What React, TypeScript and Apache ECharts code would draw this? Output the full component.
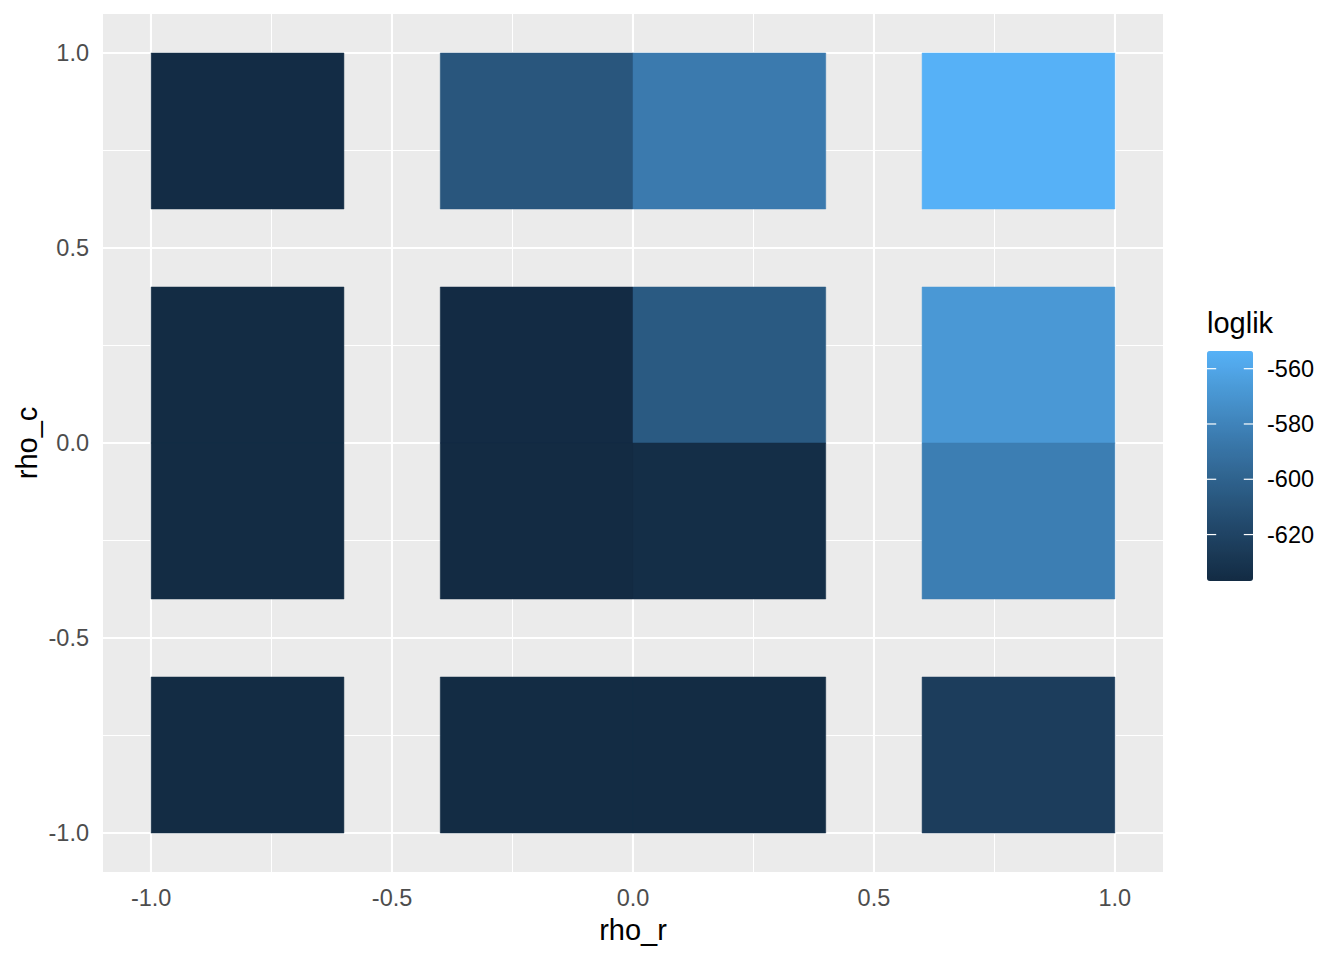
import React, { useEffect, useRef } from "react";
import * as echarts from "echarts";

// ---- data ----
const rhoR = [-0.8, -0.2, 0.2, 0.8];
const rhoC = [0.8, 0.2, -0.2, -0.8];
// loglik rows follow rhoC, columns follow rhoR
const loglikRow1 = [-636.0, -607.9, -585.3, -553.6];
const loglikRow2 = [-636.3, -636.5, -605.4, -567.8];
const loglikRow3 = [-636.3, -636.8, -634.6, -583.1];
const loglikRow4 = [-636.2, -636.4, -636.1, -624.0];
const loglikRows = [loglikRow1, loglikRow2, loglikRow3, loglikRow4];
const tileSize = 0.4;
const axisTicks = [-1, -0.5, 0, 0.5, 1];
const minorTicks = [-0.75, -0.25, 0.25, 0.75];
const legendTicks = [-560, -580, -600, -620];
const lowColor = "#132B43";
const highColor = "#56B1F7";

// ---- colour ramp in CIELAB (like ggplot2's seq gradient) ----
function hexToRgb(h: string) {
  const s = h.replace("#", "");
  return [0, 2, 4].map((i) => parseInt(s.slice(i, i + 2), 16));
}
const toLin = (c: number) => {
  c /= 255;
  return c <= 0.04045 ? c / 12.92 : Math.pow((c + 0.055) / 1.055, 2.4);
};
const fromLin = (c: number) => {
  const v = c <= 0.0031308 ? 12.92 * c : 1.055 * Math.pow(c, 1 / 2.4) - 0.055;
  return Math.max(0, Math.min(255, Math.round(v * 255)));
};
const WX = 0.95047, WY = 1.0, WZ = 1.08883;
function rgbToLab(rgb: number[]) {
  const [r, g, b] = rgb.map(toLin);
  const x = (0.4124 * r + 0.3576 * g + 0.1805 * b) / WX;
  const y = (0.2126 * r + 0.7152 * g + 0.0722 * b) / WY;
  const z = (0.0193 * r + 0.1192 * g + 0.9505 * b) / WZ;
  const f = (t: number) => (t > 0.008856 ? Math.cbrt(t) : 7.787 * t + 16 / 116);
  const fx = f(x), fy = f(y), fz = f(z);
  return [116 * fy - 16, 500 * (fx - fy), 200 * (fy - fz)];
}
function labToHex(lab: number[]) {
  const [L, A, B] = lab;
  const fy = (L + 16) / 116;
  const fx = fy + A / 500;
  const fz = fy - B / 200;
  const inv = (t: number) => (t * t * t > 0.008856 ? t * t * t : (t - 16 / 116) / 7.787);
  const x = inv(fx) * WX, y = inv(fy) * WY, z = inv(fz) * WZ;
  const r = 3.2406 * x - 1.5372 * y - 0.4986 * z;
  const g = -0.9689 * x + 1.8758 * y + 0.0415 * z;
  const b = 0.0557 * x - 0.204 * y + 1.057 * z;
  return "#" + [r, g, b].map((c) => fromLin(c).toString(16).padStart(2, "0")).join("");
}
function labRamp(a: string, b: string, n: number) {
  const la = rgbToLab(hexToRgb(a));
  const lb = rgbToLab(hexToRgb(b));
  const out: string[] = [];
  for (let i = 0; i < n; i++) {
    const t = i / (n - 1);
    out.push(labToHex([0, 1, 2].map((k) => la[k] + (lb[k] - la[k]) * t)));
  }
  return out;
}

const FONT = "'Liberation Sans', Arial, sans-serif";
const TICK_FS = 23.5;
const TITLE_FS = 29;

export default function App() {
  const ref = useRef<HTMLDivElement>(null);
  useEffect(() => {
    if (!ref.current) return;
    const chart = echarts.init(ref.current, undefined, { renderer: "svg" });

    const tiles: number[][] = [];
    rhoC.forEach((c, i) => rhoR.forEach((r, j) => tiles.push([r, c, loglikRows[i][j]])));
    const all = loglikRows.flat();
    const vMin = Math.min(...all);
    const vMax = Math.max(...all);

    const barLeft = 1207, barTop = 351, barW = 46, barH = 230;
    const valToY = (v: number) => barTop + ((vMax - v) / (vMax - vMin)) * barH;

    const graphics: any[] = [
      {
        type: "text", x: 633, y: 930,
        style: { text: "rho_r", font: `${TITLE_FS}px ${FONT}`, fill: "#000", textAlign: "center", textVerticalAlign: "middle" },
      },
      {
        type: "text", x: 27, y: 443, rotation: Math.PI / 2,
        style: { text: "rho_c", font: `${TITLE_FS}px ${FONT}`, fill: "#000", textAlign: "center", textVerticalAlign: "middle" },
      },
      {
        type: "text", x: barLeft, y: 323,
        style: { text: "loglik", font: `${TITLE_FS}px ${FONT}`, fill: "#000", textAlign: "left", textVerticalAlign: "middle" },
      },
    ];
    legendTicks.forEach((t) => {
      const y = valToY(t);
      graphics.push(
        { type: "line", z: 100, shape: { x1: barLeft, y1: y, x2: barLeft + barW / 5, y2: y }, style: { stroke: "#fff", lineWidth: 1.2 } },
        { type: "line", z: 100, shape: { x1: barLeft + barW - barW / 5, y1: y, x2: barLeft + barW, y2: y }, style: { stroke: "#fff", lineWidth: 1.2 } },
        {
          type: "text", x: 1267, y,
          style: { text: String(t), font: `${TICK_FS}px ${FONT}`, fill: "#000", textAlign: "left", textVerticalAlign: "middle" },
        }
      );
    });

    const markData: any[] = [];
    minorTicks.forEach((v) => {
      markData.push({ xAxis: v, lineStyle: { width: 1 } });
      markData.push({ yAxis: v, lineStyle: { width: 1 } });
    });
    axisTicks.forEach((v) => {
      markData.push({ xAxis: v, lineStyle: { width: 2.1 } });
      markData.push({ yAxis: v, lineStyle: { width: 2.1 } });
    });

    const axisCommon = {
      type: "value" as const,
      min: -1.1,
      max: 1.1,
      splitLine: { show: false },
      axisLine: { show: false },
      axisTick: {
        show: true,
        length: 7,
        customValues: axisTicks,
        lineStyle: { color: "#333333", width: 2 },
      },
      axisLabel: {
        customValues: axisTicks,
        formatter: (v: number) => v.toFixed(1),
        color: "#4D4D4D",
        fontSize: TICK_FS,
        fontFamily: FONT,
        margin: 14,
      },
    };

    chart.setOption({
      animation: false,
      backgroundColor: "#fff",
      grid: {
        left: 103, top: 14, width: 1060, height: 858,
        show: true, backgroundColor: "#EBEBEB", borderWidth: 0,
        containLabel: false,
      },
      xAxis: axisCommon,
      yAxis: axisCommon,
      visualMap: {
        type: "continuous",
        seriesIndex: 1,
        dimension: 2,
        min: vMin,
        max: vMax,
        calculable: false,
        hoverLink: false,
        orient: "vertical",
        left: barLeft,
        top: barTop,
        padding: 0,
        itemWidth: barW,
        itemHeight: barH,
        text: ["", ""],
        inRange: { color: labRamp(lowColor, highColor, 25) },
      },
      graphic: graphics,
      series: [
        {
          type: "line",
          z: 1,
          data: [],
          silent: true,
          markLine: {
            z: 1,
            silent: true,
            symbol: "none",
            label: { show: false },
            lineStyle: { color: "#FFFFFF", type: "solid" },
            emphasis: { disabled: true },
            data: markData,
          },
        },
        {
          type: "custom",
          z: 10,
          data: tiles,
          encode: { x: 0, y: 1 },
          renderItem: (params: any, api: any) => {
            const x = api.value(0);
            const y = api.value(1);
            const p1 = api.coord([x - tileSize / 2, y + tileSize / 2]);
            const p2 = api.coord([x + tileSize / 2, y - tileSize / 2]);
            return {
              type: "rect",
              shape: { x: p1[0], y: p1[1], width: p2[0] - p1[0], height: p2[1] - p1[1] },
              style: { fill: api.visual("color"), stroke: api.visual("color"), lineWidth: 0.5 },
            };
          },
        },
      ],
    });
    return () => chart.dispose();
  }, []);
  return (
    <div
      ref={ref}
      style={{ position: "absolute", left: 0, top: 0, width: 1344, height: 960 }}
    />
  );
}
